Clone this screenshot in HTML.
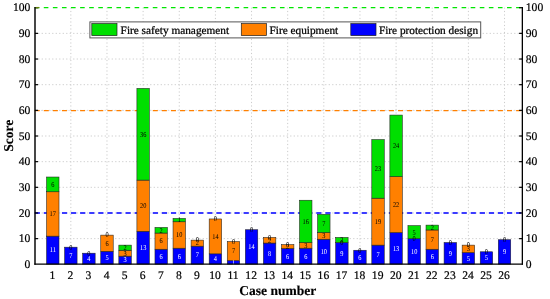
<!DOCTYPE html>
<html><head><meta charset="utf-8"><title>Score by case number</title>
<style>
html,body{margin:0;padding:0;background:#fff;}
svg{display:block;font-family:"Liberation Serif", serif;text-rendering:geometricPrecision;}
.t{font-size:11.6px;fill:#000;stroke:#000;stroke-width:0.2px;}
.l{font-size:11.3px;fill:#000;stroke:#000;stroke-width:0.24px;}
.b{font-size:13.5px;font-weight:bold;fill:#000;stroke:#000;stroke-width:0.15px;}
.v{font-size:7.4px;text-anchor:middle;}
</style></head><body>
<svg width="550" height="299" viewBox="0 0 550 299">
<rect width="550" height="299" fill="#fff"/>
<g stroke="#cccccc" stroke-width="1" stroke-dasharray="1.2 2.3" fill="none">
<line x1="34.70" y1="238.64" x2="522.59" y2="238.64"/>
<line x1="34.70" y1="212.98" x2="522.59" y2="212.98"/>
<line x1="34.70" y1="187.32" x2="522.59" y2="187.32"/>
<line x1="34.70" y1="161.66" x2="522.59" y2="161.66"/>
<line x1="34.70" y1="136.00" x2="522.59" y2="136.00"/>
<line x1="34.70" y1="110.34" x2="522.59" y2="110.34"/>
<line x1="34.70" y1="84.68" x2="522.59" y2="84.68"/>
<line x1="34.70" y1="59.02" x2="522.59" y2="59.02"/>
<line x1="34.70" y1="33.36" x2="522.59" y2="33.36"/>
<line x1="70.84" y1="264.10" x2="70.84" y2="7.60"/>
<line x1="106.98" y1="264.10" x2="106.98" y2="7.60"/>
<line x1="143.12" y1="264.10" x2="143.12" y2="7.60"/>
<line x1="179.26" y1="264.10" x2="179.26" y2="7.60"/>
<line x1="215.40" y1="264.10" x2="215.40" y2="7.60"/>
<line x1="251.54" y1="264.10" x2="251.54" y2="7.60"/>
<line x1="287.68" y1="264.10" x2="287.68" y2="7.60"/>
<line x1="323.82" y1="264.10" x2="323.82" y2="7.60"/>
<line x1="359.96" y1="264.10" x2="359.96" y2="7.60"/>
<line x1="396.10" y1="264.10" x2="396.10" y2="7.60"/>
<line x1="432.24" y1="264.10" x2="432.24" y2="7.60"/>
<line x1="468.38" y1="264.10" x2="468.38" y2="7.60"/>
<line x1="504.52" y1="264.10" x2="504.52" y2="7.60"/>
</g>
<line x1="34.70" y1="7.60" x2="522.59" y2="7.60" stroke="#00e600" stroke-width="1.3" stroke-dasharray="4.6 4.483"/>
<line x1="34.70" y1="110.54" x2="522.59" y2="110.54" stroke="#ff8000" stroke-width="1.2" stroke-dasharray="5 4.083"/>
<line x1="34.70" y1="110.54" x2="522.59" y2="110.54" stroke="#d4d8e4" stroke-width="1" stroke-dasharray="1 8.083" stroke-dashoffset="-6.5"/>
<line x1="34.70" y1="212.98" x2="522.59" y2="212.98" stroke="#3c3cff" stroke-width="1.8" stroke-dasharray="5.2 3.883"/>
<rect x="46.55" y="236.14" width="12.45" height="27.96" fill="#0000ff" stroke="#202020" stroke-width="0.55"/>
<rect x="46.55" y="191.77" width="12.45" height="44.37" fill="#ff8000" stroke="#202020" stroke-width="0.55"/>
<rect x="46.55" y="177.02" width="12.45" height="14.75" fill="#00df00" stroke="#202020" stroke-width="0.55"/>
<rect x="64.62" y="247.17" width="12.45" height="16.93" fill="#0000ff" stroke="#202020" stroke-width="0.55"/>
<rect x="82.69" y="253.20" width="12.45" height="10.90" fill="#0000ff" stroke="#202020" stroke-width="0.55"/>
<rect x="100.76" y="251.28" width="12.45" height="12.82" fill="#0000ff" stroke="#202020" stroke-width="0.55"/>
<rect x="100.76" y="235.12" width="12.45" height="16.16" fill="#ff8000" stroke="#202020" stroke-width="0.55"/>
<rect x="118.83" y="256.15" width="12.45" height="7.95" fill="#0000ff" stroke="#202020" stroke-width="0.55"/>
<rect x="118.83" y="250.25" width="12.45" height="5.90" fill="#ff8000" stroke="#202020" stroke-width="0.55"/>
<rect x="118.83" y="245.12" width="12.45" height="5.13" fill="#00df00" stroke="#202020" stroke-width="0.55"/>
<rect x="136.90" y="231.27" width="12.45" height="32.83" fill="#0000ff" stroke="#202020" stroke-width="0.55"/>
<rect x="136.90" y="180.10" width="12.45" height="51.17" fill="#ff8000" stroke="#202020" stroke-width="0.55"/>
<rect x="136.90" y="88.40" width="12.45" height="91.70" fill="#00df00" stroke="#202020" stroke-width="0.55"/>
<rect x="154.97" y="249.22" width="12.45" height="14.88" fill="#0000ff" stroke="#202020" stroke-width="0.55"/>
<rect x="154.97" y="233.06" width="12.45" height="16.16" fill="#ff8000" stroke="#202020" stroke-width="0.55"/>
<rect x="154.97" y="227.42" width="12.45" height="5.64" fill="#00df00" stroke="#202020" stroke-width="0.55"/>
<rect x="173.03" y="248.20" width="12.45" height="15.90" fill="#0000ff" stroke="#202020" stroke-width="0.55"/>
<rect x="173.03" y="221.78" width="12.45" height="26.42" fill="#ff8000" stroke="#202020" stroke-width="0.55"/>
<rect x="173.03" y="218.44" width="12.45" height="3.33" fill="#00df00" stroke="#202020" stroke-width="0.55"/>
<rect x="191.10" y="246.15" width="12.45" height="17.95" fill="#0000ff" stroke="#202020" stroke-width="0.55"/>
<rect x="191.10" y="240.12" width="12.45" height="6.03" fill="#ff8000" stroke="#202020" stroke-width="0.55"/>
<rect x="209.17" y="253.84" width="12.45" height="10.26" fill="#0000ff" stroke="#202020" stroke-width="0.55"/>
<rect x="209.17" y="218.96" width="12.45" height="34.88" fill="#ff8000" stroke="#202020" stroke-width="0.55"/>
<rect x="227.25" y="260.61" width="12.45" height="3.49" fill="#0000ff" stroke="#202020" stroke-width="0.55"/>
<rect x="227.25" y="241.53" width="12.45" height="19.08" fill="#ff8000" stroke="#202020" stroke-width="0.55"/>
<rect x="245.32" y="229.73" width="12.45" height="34.37" fill="#0000ff" stroke="#202020" stroke-width="0.55"/>
<rect x="263.38" y="243.07" width="12.45" height="21.03" fill="#0000ff" stroke="#202020" stroke-width="0.55"/>
<rect x="263.38" y="237.42" width="12.45" height="5.64" fill="#ff8000" stroke="#202020" stroke-width="0.55"/>
<rect x="281.45" y="248.45" width="12.45" height="15.65" fill="#0000ff" stroke="#202020" stroke-width="0.55"/>
<rect x="281.45" y="244.61" width="12.45" height="3.85" fill="#ff8000" stroke="#202020" stroke-width="0.55"/>
<rect x="299.52" y="248.20" width="12.45" height="15.90" fill="#0000ff" stroke="#202020" stroke-width="0.55"/>
<rect x="299.52" y="242.55" width="12.45" height="5.64" fill="#ff8000" stroke="#202020" stroke-width="0.55"/>
<rect x="299.52" y="200.23" width="12.45" height="42.32" fill="#00df00" stroke="#202020" stroke-width="0.55"/>
<rect x="317.59" y="239.22" width="12.45" height="24.88" fill="#0000ff" stroke="#202020" stroke-width="0.55"/>
<rect x="317.59" y="232.55" width="12.45" height="6.67" fill="#ff8000" stroke="#202020" stroke-width="0.55"/>
<rect x="317.59" y="214.34" width="12.45" height="18.21" fill="#00df00" stroke="#202020" stroke-width="0.55"/>
<rect x="335.66" y="242.55" width="12.45" height="21.55" fill="#0000ff" stroke="#202020" stroke-width="0.55"/>
<rect x="335.66" y="237.42" width="12.45" height="5.13" fill="#00df00" stroke="#202020" stroke-width="0.55"/>
<rect x="353.73" y="250.25" width="12.45" height="13.85" fill="#0000ff" stroke="#202020" stroke-width="0.55"/>
<rect x="371.80" y="245.12" width="12.45" height="18.98" fill="#0000ff" stroke="#202020" stroke-width="0.55"/>
<rect x="371.80" y="198.18" width="12.45" height="46.94" fill="#ff8000" stroke="#202020" stroke-width="0.55"/>
<rect x="371.80" y="139.57" width="12.45" height="58.61" fill="#00df00" stroke="#202020" stroke-width="0.55"/>
<rect x="389.87" y="232.55" width="12.45" height="31.55" fill="#0000ff" stroke="#202020" stroke-width="0.55"/>
<rect x="389.87" y="176.63" width="12.45" height="55.92" fill="#ff8000" stroke="#202020" stroke-width="0.55"/>
<rect x="389.87" y="115.07" width="12.45" height="61.56" fill="#00df00" stroke="#202020" stroke-width="0.55"/>
<rect x="407.94" y="238.71" width="12.45" height="25.39" fill="#0000ff" stroke="#202020" stroke-width="0.55"/>
<rect x="407.94" y="225.63" width="12.45" height="13.08" fill="#00df00" stroke="#202020" stroke-width="0.55"/>
<rect x="426.01" y="249.22" width="12.45" height="14.88" fill="#0000ff" stroke="#202020" stroke-width="0.55"/>
<rect x="426.01" y="229.99" width="12.45" height="19.24" fill="#ff8000" stroke="#202020" stroke-width="0.55"/>
<rect x="426.01" y="225.11" width="12.45" height="4.87" fill="#00df00" stroke="#202020" stroke-width="0.55"/>
<rect x="444.08" y="242.55" width="12.45" height="21.55" fill="#0000ff" stroke="#202020" stroke-width="0.55"/>
<rect x="462.15" y="252.56" width="12.45" height="11.54" fill="#0000ff" stroke="#202020" stroke-width="0.55"/>
<rect x="462.15" y="245.12" width="12.45" height="7.44" fill="#ff8000" stroke="#202020" stroke-width="0.55"/>
<rect x="480.22" y="251.79" width="12.45" height="12.31" fill="#0000ff" stroke="#202020" stroke-width="0.55"/>
<rect x="498.29" y="239.73" width="12.45" height="24.37" fill="#0000ff" stroke="#202020" stroke-width="0.55"/>
<text class="v" transform="translate(52.77 252.47) scale(0.86 1)" fill="#fff">11</text>
<text class="v" transform="translate(52.77 216.30) scale(0.86 1)" fill="#000">17</text>
<text class="v" transform="translate(52.77 186.74) scale(0.86 1)" fill="#000">6</text>
<text class="v" transform="translate(70.84 257.99) scale(0.86 1)" fill="#fff">7</text>
<text class="v" transform="translate(70.84 249.52) scale(0.86 1)" fill="#000">0</text>
<text class="v" transform="translate(88.91 261.00) scale(0.86 1)" fill="#fff">4</text>
<text class="v" transform="translate(88.91 255.55) scale(0.86 1)" fill="#000">0</text>
<text class="v" transform="translate(106.98 260.04) scale(0.86 1)" fill="#fff">5</text>
<text class="v" transform="translate(106.98 245.55) scale(0.86 1)" fill="#000">6</text>
<text class="v" transform="translate(106.98 237.47) scale(0.86 1)" fill="#000">0</text>
<text class="v" transform="translate(125.05 262.47) scale(0.86 1)" fill="#fff">3</text>
<text class="v" transform="translate(125.05 255.55) scale(0.86 1)" fill="#000">3</text>
<text class="v" transform="translate(125.05 250.03) scale(0.86 1)" fill="#000">2</text>
<text class="v" transform="translate(143.12 250.03) scale(0.86 1)" fill="#fff">13</text>
<text class="v" transform="translate(143.12 208.03) scale(0.86 1)" fill="#000">20</text>
<text class="v" transform="translate(143.12 136.60) scale(0.86 1)" fill="#000">36</text>
<text class="v" transform="translate(161.19 259.01) scale(0.86 1)" fill="#fff">6</text>
<text class="v" transform="translate(161.19 243.49) scale(0.86 1)" fill="#000">6</text>
<text class="v" transform="translate(161.19 232.59) scale(0.86 1)" fill="#000">2</text>
<text class="v" transform="translate(179.26 258.50) scale(0.86 1)" fill="#fff">6</text>
<text class="v" transform="translate(179.26 237.34) scale(0.86 1)" fill="#000">10</text>
<text class="v" transform="translate(179.26 222.46) scale(0.86 1)" fill="#000">1</text>
<text class="v" transform="translate(197.33 257.47) scale(0.86 1)" fill="#fff">7</text>
<text class="v" transform="translate(197.33 245.48) scale(0.86 1)" fill="#000">2</text>
<text class="v" transform="translate(197.33 242.47) scale(0.86 1)" fill="#000">0</text>
<text class="v" transform="translate(215.40 261.32) scale(0.86 1)" fill="#fff">4</text>
<text class="v" transform="translate(215.40 238.75) scale(0.86 1)" fill="#000">14</text>
<text class="v" transform="translate(215.40 221.31) scale(0.86 1)" fill="#000">0</text>
<text class="v" transform="translate(233.47 264.71) scale(0.86 1)" fill="#fff">1</text>
<text class="v" transform="translate(233.47 253.42) scale(0.86 1)" fill="#000">7</text>
<text class="v" transform="translate(233.47 243.88) scale(0.86 1)" fill="#000">0</text>
<text class="v" transform="translate(251.54 249.26) scale(0.86 1)" fill="#fff">14</text>
<text class="v" transform="translate(251.54 232.08) scale(0.86 1)" fill="#000">0</text>
<text class="v" transform="translate(269.61 255.93) scale(0.86 1)" fill="#fff">8</text>
<text class="v" transform="translate(269.61 242.60) scale(0.86 1)" fill="#000">2</text>
<text class="v" transform="translate(269.61 239.77) scale(0.86 1)" fill="#000">0</text>
<text class="v" transform="translate(287.68 258.63) scale(0.86 1)" fill="#fff">6</text>
<text class="v" transform="translate(287.68 248.88) scale(0.86 1)" fill="#000">2</text>
<text class="v" transform="translate(287.68 246.96) scale(0.86 1)" fill="#000">0</text>
<text class="v" transform="translate(305.75 258.50) scale(0.86 1)" fill="#fff">6</text>
<text class="v" transform="translate(305.75 247.73) scale(0.86 1)" fill="#000">3</text>
<text class="v" transform="translate(305.75 223.74) scale(0.86 1)" fill="#000">16</text>
<text class="v" transform="translate(323.82 254.01) scale(0.86 1)" fill="#fff">10</text>
<text class="v" transform="translate(323.82 238.24) scale(0.86 1)" fill="#000">3</text>
<text class="v" transform="translate(323.82 225.79) scale(0.86 1)" fill="#000">7</text>
<text class="v" transform="translate(341.89 255.68) scale(0.86 1)" fill="#fff">9</text>
<text class="v" transform="translate(341.89 244.90) scale(0.86 1)" fill="#000">0</text>
<text class="v" transform="translate(341.89 242.34) scale(0.86 1)" fill="#000">2</text>
<text class="v" transform="translate(359.96 259.52) scale(0.86 1)" fill="#fff">6</text>
<text class="v" transform="translate(359.96 252.60) scale(0.86 1)" fill="#000">0</text>
<text class="v" transform="translate(378.03 256.96) scale(0.86 1)" fill="#fff">7</text>
<text class="v" transform="translate(378.03 224.00) scale(0.86 1)" fill="#000">19</text>
<text class="v" transform="translate(378.03 171.22) scale(0.86 1)" fill="#000">23</text>
<text class="v" transform="translate(396.10 250.68) scale(0.86 1)" fill="#fff">13</text>
<text class="v" transform="translate(396.10 206.94) scale(0.86 1)" fill="#000">22</text>
<text class="v" transform="translate(396.10 148.20) scale(0.86 1)" fill="#000">24</text>
<text class="v" transform="translate(414.17 253.75) scale(0.86 1)" fill="#fff">10</text>
<text class="v" transform="translate(414.17 241.06) scale(0.86 1)" fill="#000">0</text>
<text class="v" transform="translate(414.17 234.52) scale(0.86 1)" fill="#000">5</text>
<text class="v" transform="translate(432.24 259.01) scale(0.86 1)" fill="#fff">6</text>
<text class="v" transform="translate(432.24 241.95) scale(0.86 1)" fill="#000">7</text>
<text class="v" transform="translate(432.24 229.90) scale(0.86 1)" fill="#000">2</text>
<text class="v" transform="translate(450.31 255.68) scale(0.86 1)" fill="#fff">9</text>
<text class="v" transform="translate(450.31 244.90) scale(0.86 1)" fill="#000">0</text>
<text class="v" transform="translate(468.38 260.68) scale(0.86 1)" fill="#fff">5</text>
<text class="v" transform="translate(468.38 251.19) scale(0.86 1)" fill="#000">3</text>
<text class="v" transform="translate(468.38 247.47) scale(0.86 1)" fill="#000">0</text>
<text class="v" transform="translate(486.45 260.29) scale(0.86 1)" fill="#fff">5</text>
<text class="v" transform="translate(486.45 254.14) scale(0.86 1)" fill="#000">0</text>
<text class="v" transform="translate(504.52 254.27) scale(0.86 1)" fill="#fff">9</text>
<text class="v" transform="translate(504.52 242.08) scale(0.86 1)" fill="#000">0</text>
<g stroke="#000" fill="none">
<line x1="35.0" y1="7.00" x2="35.0" y2="264.80" stroke-width="1.45"/>
<line x1="522.35" y1="7.00" x2="522.35" y2="264.80" stroke-width="1.3"/>
<line x1="34.4" y1="264.10" x2="522.95" y2="264.10" stroke-width="1.4"/>
</g>
<g stroke="#000" stroke-width="1.2">
<line x1="35.0" y1="238.64" x2="38.1" y2="238.64"/>
<line x1="522.35" y1="238.64" x2="519.1" y2="238.64"/>
<line x1="35.0" y1="212.98" x2="38.1" y2="212.98"/>
<line x1="522.35" y1="212.98" x2="519.1" y2="212.98"/>
<line x1="35.0" y1="187.32" x2="38.1" y2="187.32"/>
<line x1="522.35" y1="187.32" x2="519.1" y2="187.32"/>
<line x1="35.0" y1="161.66" x2="38.1" y2="161.66"/>
<line x1="522.35" y1="161.66" x2="519.1" y2="161.66"/>
<line x1="35.0" y1="136.00" x2="38.1" y2="136.00"/>
<line x1="522.35" y1="136.00" x2="519.1" y2="136.00"/>
<line x1="35.0" y1="110.34" x2="38.1" y2="110.34"/>
<line x1="522.35" y1="110.34" x2="519.1" y2="110.34"/>
<line x1="35.0" y1="84.68" x2="38.1" y2="84.68"/>
<line x1="522.35" y1="84.68" x2="519.1" y2="84.68"/>
<line x1="35.0" y1="59.02" x2="38.1" y2="59.02"/>
<line x1="522.35" y1="59.02" x2="519.1" y2="59.02"/>
<line x1="35.0" y1="33.36" x2="38.1" y2="33.36"/>
<line x1="522.35" y1="33.36" x2="519.1" y2="33.36"/>
<line x1="35.0" y1="7.70" x2="38.1" y2="7.70"/>
<line x1="522.35" y1="7.70" x2="519.1" y2="7.70"/>
</g>
<line x1="35.7" y1="7.60" x2="39.3" y2="7.60" stroke="#66800a" stroke-width="1.3"/>
<text class="t" text-anchor="end" x="30.3" y="267.85">0</text>
<text class="t" x="525.8" y="267.85">0</text>
<text class="t" text-anchor="end" x="30.3" y="242.19">10</text>
<text class="t" x="525.8" y="242.19">10</text>
<text class="t" text-anchor="end" x="30.3" y="216.53">20</text>
<text class="t" x="525.8" y="216.53">20</text>
<text class="t" text-anchor="end" x="30.3" y="190.87">30</text>
<text class="t" x="525.8" y="190.87">30</text>
<text class="t" text-anchor="end" x="30.3" y="165.21">40</text>
<text class="t" x="525.8" y="165.21">40</text>
<text class="t" text-anchor="end" x="30.3" y="139.55">50</text>
<text class="t" x="525.8" y="139.55">50</text>
<text class="t" text-anchor="end" x="30.3" y="113.89">60</text>
<text class="t" x="525.8" y="113.89">60</text>
<text class="t" text-anchor="end" x="30.3" y="88.23">70</text>
<text class="t" x="525.8" y="88.23">70</text>
<text class="t" text-anchor="end" x="30.3" y="62.57">80</text>
<text class="t" x="525.8" y="62.57">80</text>
<text class="t" text-anchor="end" x="30.3" y="36.91">90</text>
<text class="t" x="525.8" y="36.91">90</text>
<text class="t" text-anchor="end" x="30.3" y="11.25">100</text>
<text class="t" x="525.8" y="11.25">100</text>
<text class="t" text-anchor="middle" x="52.37" y="279.3">1</text>
<text class="t" text-anchor="middle" x="70.44" y="279.3">2</text>
<text class="t" text-anchor="middle" x="88.51" y="279.3">3</text>
<text class="t" text-anchor="middle" x="106.58" y="279.3">4</text>
<text class="t" text-anchor="middle" x="124.65" y="279.3">5</text>
<text class="t" text-anchor="middle" x="142.72" y="279.3">6</text>
<text class="t" text-anchor="middle" x="160.79" y="279.3">7</text>
<text class="t" text-anchor="middle" x="178.86" y="279.3">8</text>
<text class="t" text-anchor="middle" x="196.93" y="279.3">9</text>
<text class="t" text-anchor="middle" x="215.00" y="279.3">10</text>
<text class="t" text-anchor="middle" x="233.07" y="279.3">11</text>
<text class="t" text-anchor="middle" x="251.14" y="279.3">12</text>
<text class="t" text-anchor="middle" x="269.21" y="279.3">13</text>
<text class="t" text-anchor="middle" x="287.28" y="279.3">14</text>
<text class="t" text-anchor="middle" x="305.35" y="279.3">15</text>
<text class="t" text-anchor="middle" x="323.42" y="279.3">16</text>
<text class="t" text-anchor="middle" x="341.49" y="279.3">17</text>
<text class="t" text-anchor="middle" x="359.56" y="279.3">18</text>
<text class="t" text-anchor="middle" x="377.63" y="279.3">19</text>
<text class="t" text-anchor="middle" x="395.70" y="279.3">20</text>
<text class="t" text-anchor="middle" x="413.77" y="279.3">21</text>
<text class="t" text-anchor="middle" x="431.84" y="279.3">22</text>
<text class="t" text-anchor="middle" x="449.91" y="279.3">23</text>
<text class="t" text-anchor="middle" x="467.98" y="279.3">24</text>
<text class="t" text-anchor="middle" x="486.05" y="279.3">25</text>
<text class="t" text-anchor="middle" x="504.12" y="279.3">26</text>
<text class="b" text-anchor="middle" x="277.8" y="295.3">Case number</text>
<text class="b" text-anchor="middle" transform="translate(13.2 135.8) rotate(-90)">Score</text>
<rect x="89.9" y="21.9" width="390.8" height="16" fill="#fff" stroke="#555" stroke-width="1"/>
<rect x="91.8" y="23.6" width="25.2" height="12" fill="#00df00" stroke="#222" stroke-width="0.7"/>
<text class="l" x="120.6" y="33.6">Fire safety management</text>
<rect x="241.3" y="23.6" width="25.2" height="12" fill="#ff8000" stroke="#222" stroke-width="0.7"/>
<text class="l" x="269.5" y="33.6">Fire equipment</text>
<rect x="350.8" y="23.6" width="25.2" height="12" fill="#0000ff" stroke="#222" stroke-width="0.7"/>
<text class="l" x="378.9" y="33.6">Fire protection design</text>
</svg></body></html>
